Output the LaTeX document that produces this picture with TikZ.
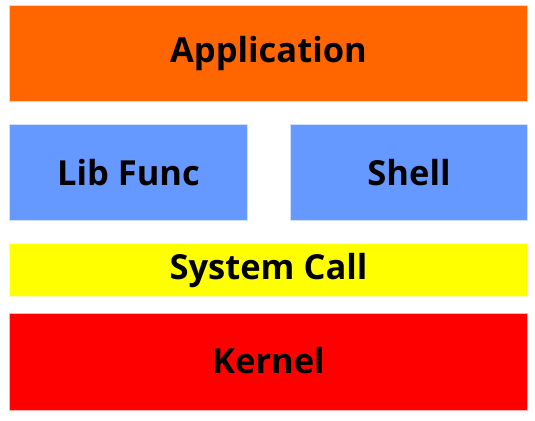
\documentclass[tikz,border=0pt]{standalone}
\usepackage{fontspec}
\setmainfont{Open Sans}
\begin{document}
\begin{tikzpicture}[x=1pt,y=-1pt,
  layer/.style={draw=none,inner sep=0pt,font=\bfseries\fontsize{34.5}{40}\selectfont,text=black},
  edge/.style={draw=white!70!#1,line width=0.8pt}]
\useasboundingbox (0,0) rectangle (535,420);
\fill[white] (0,0) rectangle (535,420);
\definecolor{appc}{HTML}{FF6600}
\definecolor{libc}{HTML}{6699FF}
\definecolor{sysc}{HTML}{FFFF00}
\definecolor{kerc}{HTML}{FF0000}
\path[fill=appc,edge=appc] (9.5,5.5) rectangle (527.5,101.5);
\path[fill=libc,edge=libc] (9.5,124.5) rectangle (247.5,220.5);
\path[fill=libc,edge=libc] (290.5,124.5) rectangle (527.5,220.5);
\path[fill=sysc,edge=sysc] (9.5,243.5) rectangle (527.5,296.5);
\path[fill=kerc,edge=kerc] (9.5,313.5) rectangle (527.5,410);
\node[layer] (app) at (268.5,54) {Application};
\node[layer] (lib) at (128.5,172.5) {Lib Func};
\node[layer] (sh) at (409,172.5) {Shell};
\node[layer] (sys) at (268.5,270.5) {System Call};
\node[layer] (ker) at (268.5,361) {Kernel};
\end{tikzpicture}
\end{document}
